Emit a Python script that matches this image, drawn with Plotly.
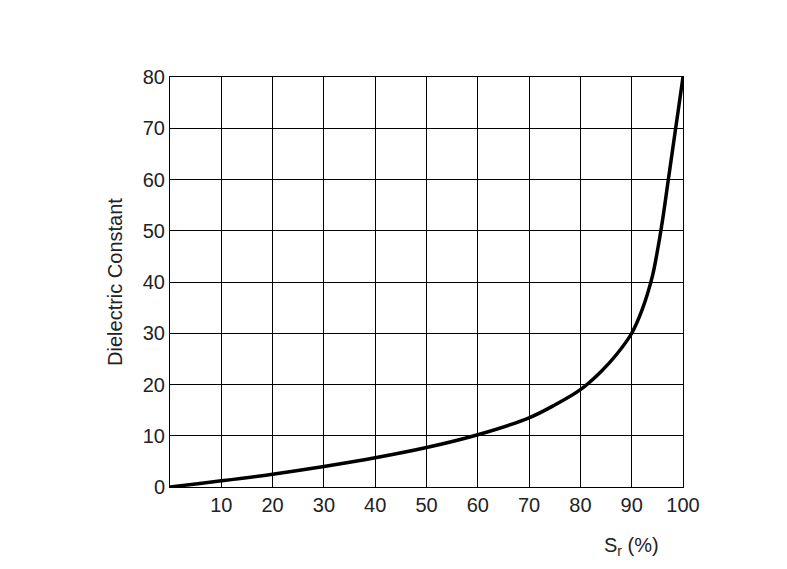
import plotly.graph_objects as go

sr = [0, 5, 10, 20, 30, 40, 50, 60, 70, 75, 80, 84, 87, 90, 92, 94, 95, 96, 97, 98, 99, 100]
eps = [0, 0.6, 1.2, 2.5, 4.0, 5.7, 7.7, 10.2, 13.5, 16, 19, 22.5, 25.8, 30, 34.5, 41, 46, 52, 59, 66, 73, 80]
xticks = [10, 20, 30, 40, 50, 60, 70, 80, 90, 100]
yticks = [0, 10, 20, 30, 40, 50, 60, 70, 80]

fig = go.Figure(go.Scatter(x=sr, y=eps, mode="lines", line=dict(color="black", width=3.5, shape="spline", smoothing=1.0)))
font = dict(family="Liberation Sans, Arial", size=20, color="#222")
fig.update_layout(
    width=787, height=569, margin=dict(l=162, r=112, t=69, b=90),
    plot_bgcolor="white", paper_bgcolor="white", showlegend=False, font=font,
    xaxis=dict(range=[0, 100], tickvals=xticks, showgrid=True, gridcolor="black", gridwidth=1,
               showline=True, linecolor="black", mirror=True, zeroline=False, ticks="", ticklen=0),
    yaxis=dict(range=[0, 80], tickvals=yticks, showgrid=True, gridcolor="black", gridwidth=1,
               showline=True, linecolor="black", mirror=True, zeroline=False, ticks="",
               title=dict(text="Dielectric Constant", font=font, standoff=14)),
    annotations=[dict(text="S<sub>r</sub> (%)", x=0.9, y=-0.145, xref="paper", yref="paper",
                      showarrow=False, font=font, xanchor="center", yanchor="middle")],
)
fig.write_html("out.html")
